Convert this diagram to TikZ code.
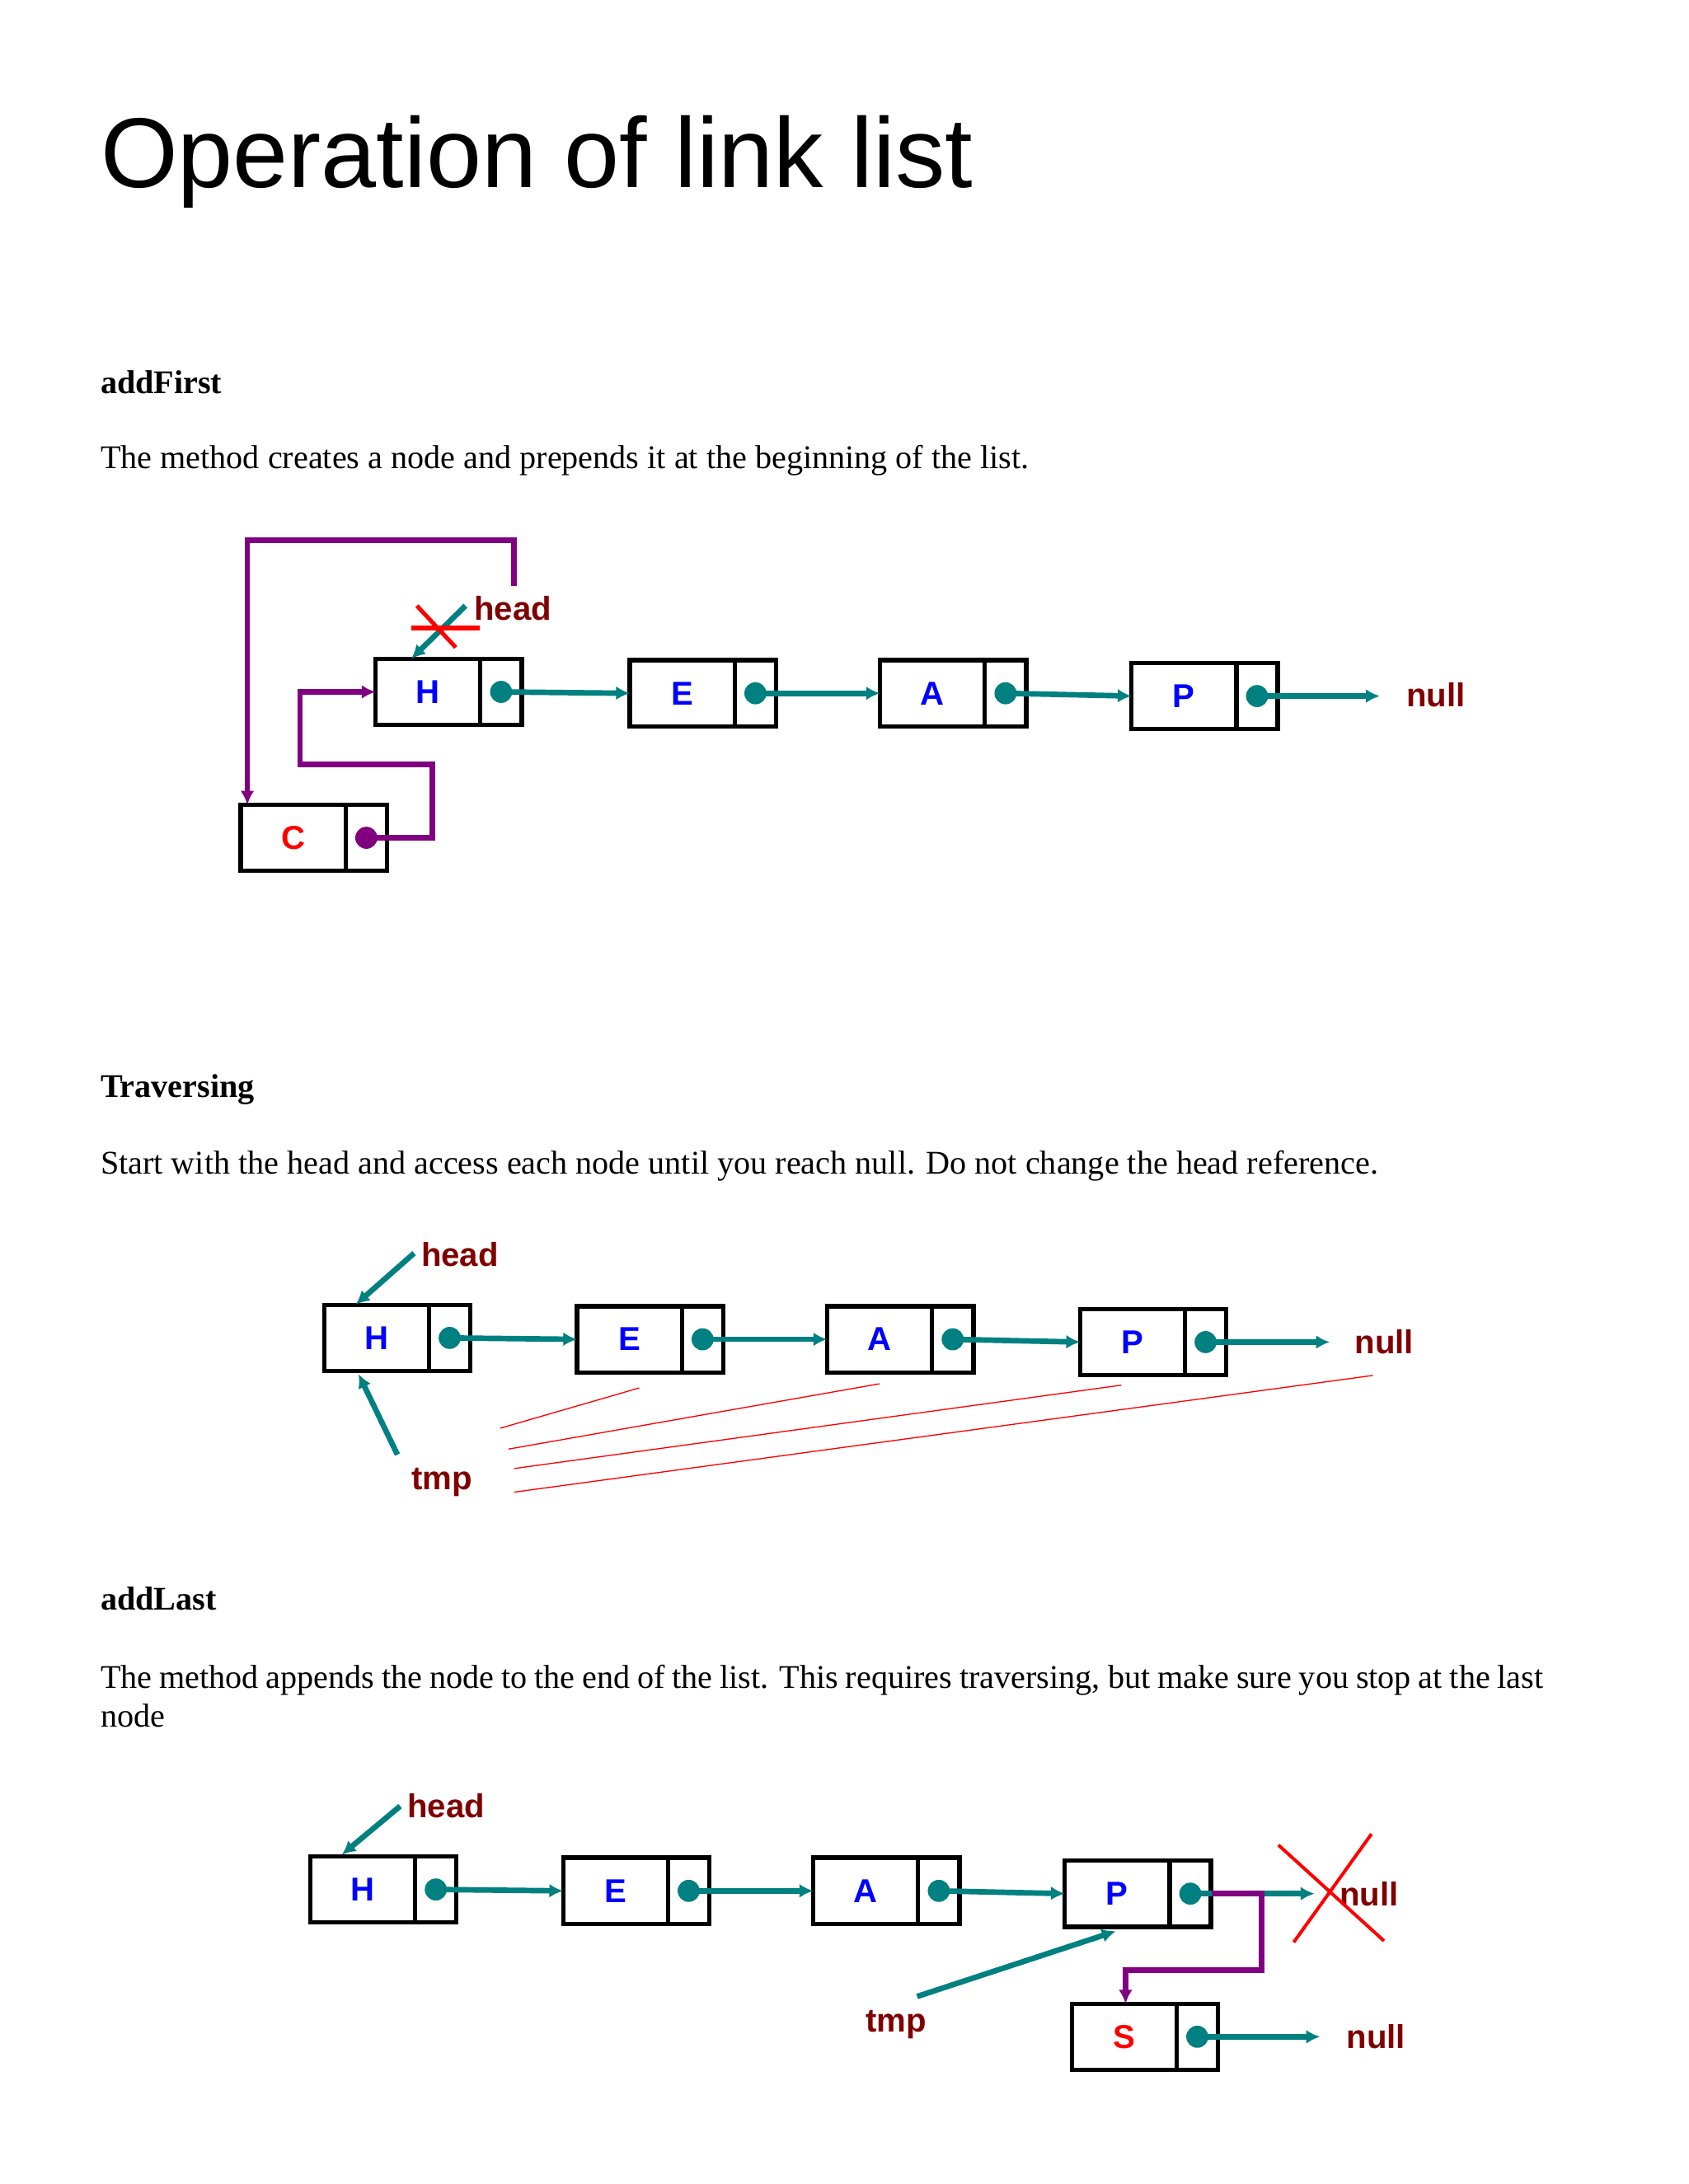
\documentclass[tikz,border=0pt]{standalone}
\usepackage{fontspec}
\setmainfont{Liberation Serif}
\setsansfont{Liberation Sans}
\usetikzlibrary{positioning,arrows.meta}
\definecolor{linkteal}{HTML}{008080}
\definecolor{linkpurple}{HTML}{800080}
\definecolor{labelred}{HTML}{800000}
\newcommand{\listnode}[5]{%
  \node[datacell, text=#5] (#1) at (#2,#3) {#4};
  \node[ptrcell, right=0pt of #1] (#1p) {};
  \fill[#1dot] (#1p) circle (4pt);
}
\begin{document}
\begin{tikzpicture}[
      x=0.5037pt, y=-0.5037pt,
      datacell/.style={draw, line width=1.6pt, minimum width=38pt, minimum height=24pt, inner sep=0pt, outer sep=0pt, font=\sffamily\bfseries\large},
      ptrcell/.style={draw, line width=1.6pt, minimum width=15pt, minimum height=24pt, inner sep=0pt, outer sep=0pt},
      link/.style={-{Latex[length=5pt,width=5pt]}, linkteal, line width=2pt},
      relink/.style={-{Latex[length=5pt,width=5pt]}, linkpurple, line width=2pt},
      ref/.style={font=\sffamily\bfseries\large, text=labelred},
      heading/.style={font=\bfseries\large, anchor=base west, inner sep=0pt},
      body/.style={font=\large, anchor=base west, inner sep=0pt}
    ]
    \useasboundingbox[fill=white] (0,0) rectangle (1215,1572);
    \tikzset{h1dot/.style={linkteal}, e1dot/.style={linkteal}, a1dot/.style={linkteal}, p1dot/.style={linkteal}, c1dot/.style={linkpurple},
      h2dot/.style={linkteal}, e2dot/.style={linkteal}, a2dot/.style={linkteal}, p2dot/.style={linkteal},
      h3dot/.style={linkteal}, e3dot/.style={linkteal}, a3dot/.style={linkteal}, p3dot/.style={linkteal}, s3dot/.style={linkteal}}

    % Title and text
    \node[anchor=base west, inner sep=0pt, font=\sffamily\fontsize{36}{42}\selectfont] (title) at (72,135) {Operation of link list};
    \node[heading] (addfirst) at (72,283) {addFirst};
    \node[body] (addfirsttext) at (72,337) {The method creates a node and prepends it at the beginning of the list.};
    \node[heading] (travhead) at (72,790) {Traversing};
    \node[body] (travtext) at (72,845) {Start with the head and access each node until you reach null. Do not change the head reference.};
    \node[heading] (addlast) at (72,1159) {addLast};
    \node[font=\large, anchor=north west, text width=523pt, align=justify, inner sep=0pt] (addlasttext) at (72,1198)
      {The method appends the node to the end of the list. This requires traversing, but make sure you stop at the last node};

    % addFirst
    \listnode{h1}{308}{498}{H}{blue}
    \listnode{e1}{491}{499}{E}{blue}
    \listnode{a1}{671}{499}{A}{blue}
    \listnode{p1}{852}{501}{P}{blue}
    \listnode{c1}{211}{603}{C}{red}
    \node[ref, anchor=west] (null1) at (1005,500) {null};
    \node[ref] (head1) at (369,438) {head};
    \coordinate (h1tail) at (335,436);
    \coordinate (n1end) at (993,501);
    \draw[link] (h1p.center) -- (e1.west);
    \draw[link] (e1p.center) -- (a1.west);
    \draw[link] (a1p.center) -- (p1.west);
    \draw[link] (p1p.center) -- (n1end);
    \draw[link] (h1tail) -- (h1.north west -| 296,0);
    \draw[red, line width=2pt] (296,452) -- (345,452);
    \draw[red, line width=1.5pt] (300,436) -- (328,466);
    \draw[relink] (370,422) -- (370,389) -- (178,389) -- (c1.north west -| 178,0);
    \draw[relink] (c1p.center) -- (311,603) -- (311,550) -- (216,550) -- (216,498) -- (h1.west);

    % Traversing
    \listnode{h2}{271}{963}{H}{blue}
    \listnode{e2}{453}{964}{E}{blue}
    \listnode{a2}{633}{964}{A}{blue}
    \listnode{p2}{815}{966}{P}{blue}
    \node[ref, anchor=west] (null2) at (968,966) {null};
    \node[ref] (head2) at (331,903) {head};
    \node[ref] (tmp2) at (318,1067) {tmp};
    \coordinate (n2end) at (957,966);
    \draw[link] (h2p.center) -- (e2.west);
    \draw[link] (e2p.center) -- (a2.west);
    \draw[link] (a2p.center) -- (p2.west);
    \draw[link] (p2p.center) -- (n2end);
    \draw[link] (298,902) -- (256,939);
    \draw[link] (286,1047) -- (258,989);
    \draw[red, thin] (360,1028) -- (460,999);
    \draw[red, thin] (366,1043) -- (633,996);
    \draw[red, thin] (370,1057) -- (807,997);
    \draw[red, thin] (370,1074) -- (988,990);

    % addLast
    \listnode{h3}{261}{1360}{H}{blue}
    \listnode{e3}{443}{1361}{E}{blue}
    \listnode{a3}{623}{1361}{A}{blue}
    \listnode{p3}{804}{1363}{P}{blue}
    \listnode{s3}{809}{1466}{S}{red}
    \node[ref, anchor=west] (null3) at (957,1363) {null};
    \node[ref, anchor=west] (null4) at (962,1466) {null};
    \node[ref] (head3) at (321,1300) {head};
    \node[ref] (tmp3) at (645,1457) {tmp};
    \coordinate (n3end) at (946,1363);
    \coordinate (n4end) at (950,1466);
    \draw[link] (h3p.center) -- (e3.west);
    \draw[link] (e3p.center) -- (a3.west);
    \draw[link] (a3p.center) -- (p3.west);
    \draw[link] (p3p.center) -- (n3end);
    \draw[link] (s3p.center) -- (n4end);
    \draw[link] (288,1300) -- (246,1335);
    \draw[link] (660,1437) -- (803,1390);
    \draw[relink] (872,1363) -- (908,1363) -- (908,1418) -- (810,1418) -- (s3.north -| 810,0);
    \draw[red, line width=1.2pt] (920,1328) -- (996,1397);
    \draw[red, line width=1.2pt] (987,1320) -- (931,1398);
\end{tikzpicture}
\end{document}
